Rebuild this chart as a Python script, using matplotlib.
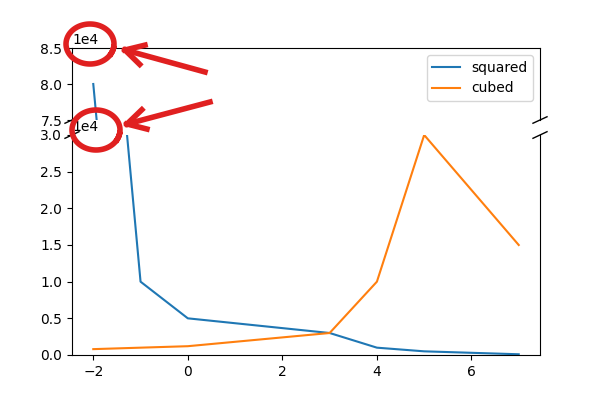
import matplotlib
matplotlib.use("Agg")
import matplotlib.pyplot as plt
import numpy as np
from matplotlib.patches import Ellipse

x = [-2, -1, 0, 3, 4, 5, 7]
squared = [80000, 10000, 5000, 3000, 1000, 500, 100]
cubed = [800, 1000, 1200, 3000, 10000, 30000, 15000]

fig = plt.figure(figsize=(6, 4), dpi=100)
ax1 = fig.add_axes([0.12, 0.70, 0.78, 0.18])
ax2 = fig.add_axes([0.12, 0.1125, 0.78, 0.55])
for ax in (ax1, ax2):
    ax.plot(x, squared, label="squared")
    ax.plot(x, cubed, label="cubed")
    ax.ticklabel_format(axis="y", style="sci", scilimits=(0, 0))
ax1.set_ylim(75000, 85000)
ax2.set_ylim(0, 30000)
ax1.set_yticks([75000, 80000, 85000])
ax1.spines["bottom"].set_visible(False)
ax2.spines["top"].set_visible(False)
ax1.tick_params(bottom=False, labelbottom=False)
ax1.legend(loc="upper right")
xl = ax2.get_xlim()
ax1.set_xlim(xl)

d = 0.015
kw = dict(color="k", clip_on=False, lw=1)
ax1.plot((1 - d, 1 + d), (-d * 3, d * 3), transform=ax1.transAxes, **kw)
ax1.plot((-d, d), (-d * 3, d * 3), transform=ax1.transAxes, **kw)
ax2.plot((1 - d, 1 + d), (1 - d, 1 + d), transform=ax2.transAxes, **kw)
ax2.plot((-d, d), (1 - d, 1 + d), transform=ax2.transAxes, **kw)

# red hand-drawn annotations (figure pixel coords, y from top)
def P(px, py):
    return px / 600, 1 - py / 400
red = dict(color="#e02020", lw=4, transform=fig.transFigure, clip_on=False)
for cx, cy in [(90, 44), (96, 130)]:
    t = np.linspace(0.2, 2 * np.pi + 0.5, 100)
    xs = cx + 24 * np.cos(t); ys = cy + 20 * np.sin(t)
    fig.lines.append(plt.Line2D(xs / 600, 1 - ys / 400, **red))
for (sx, sy, ex, ey) in [(205, 72, 125, 50), (210, 102, 127, 124)]:
    fig.lines.append(plt.Line2D([sx/600, ex/600], [1-sy/400, 1-ey/400], **red))
    v = np.array([sx - ex, sy - ey], float); v /= np.linalg.norm(v)
    n = np.array([-v[1], v[0]])
    for s in (1, -1):
        h = np.array([ex, ey]) + 18 * v + s * 10 * n
        fig.lines.append(plt.Line2D([ex/600, h[0]/600], [1-ey/400, 1-h[1]/400], **red))

fig.savefig("out.png", dpi=100)
